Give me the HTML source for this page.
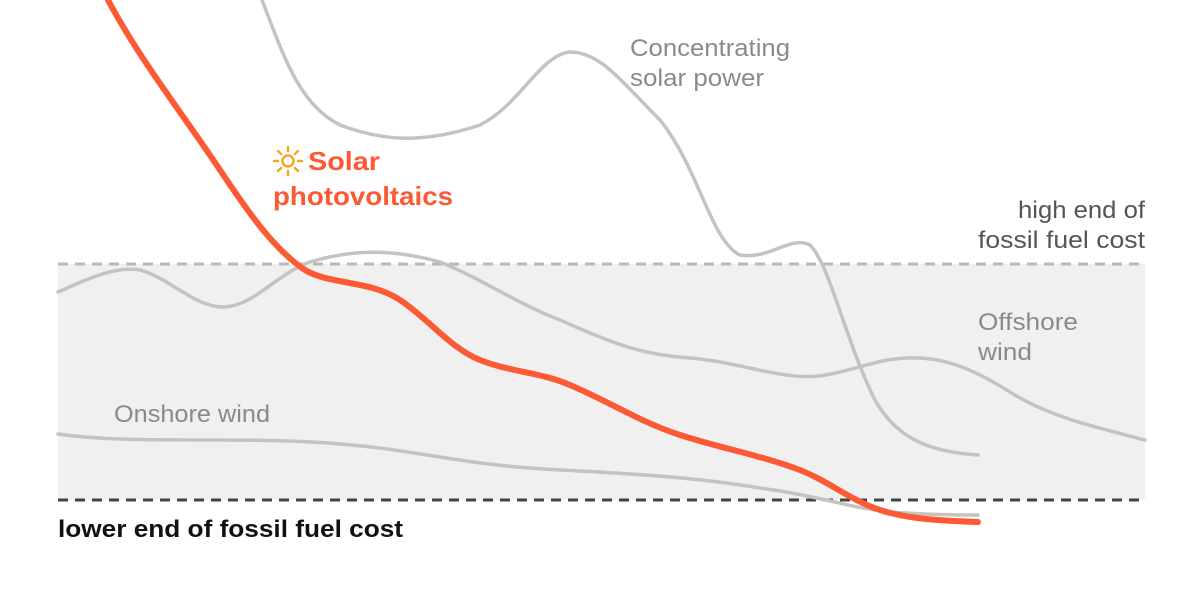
<!DOCTYPE html>
<html><head><style>
body{margin:0;background:#fff;}
svg{display:block;font-family:"Liberation Sans",sans-serif;}
</style></head><body>
<svg width="1200" height="600" viewBox="0 0 1200 600">
<rect x="58" y="264" width="1087" height="236" fill="#f0f0f0"/>
<line x1="58" y1="264" x2="1145" y2="264" stroke="#b8b8b8" stroke-width="3" stroke-dasharray="10,7"/>
<line x1="58" y1="500" x2="1145" y2="500" stroke="#444" stroke-width="3" stroke-dasharray="10,7"/>
<g fill="none" stroke="#c6c3bf" stroke-width="3.5" stroke-linecap="round">
<path d="M262,0 C285,60 300,105 340,125 C380,140 420,145 480,125 C520,105 540,55 570,52 C600,52 620,80 660,120 C700,170 710,240 740,255 C770,260 790,235 810,245 C830,265 845,340 875,400 C900,445 940,452 978,455"/>
<path d="M58,292 C90,278 115,266 140,270 C170,278 195,308 225,307 C255,305 275,275 310,262 C350,250 390,248 440,262 C480,278 520,305 560,320 C610,342 640,355 690,358 C740,362 780,380 820,376 C860,370 880,356 920,358 C960,360 990,380 1020,398 C1060,420 1100,428 1145,440"/>
<path d="M58,434 C100,440 150,440 220,440 C290,440 330,442 380,448 C440,456 480,466 560,470 C640,474 700,478 760,488 C820,496 850,508 890,512 C930,515 960,515 978,515"/>
</g>
<path d="M108,0 C140,60 180,110 220,170 C250,215 275,250 305,270 C330,285 370,280 400,300 C430,320 450,348 480,360 C510,372 540,372 570,385 C610,402 640,422 680,435 C720,448 760,455 800,470 C830,482 850,500 880,510 C910,520 950,521 978,522" fill="none" stroke="#fc5a34" stroke-width="6" stroke-linecap="round"/>
<g font-size="24" fill="#8a8a8a">
<text x="630" y="56" textLength="160" lengthAdjust="spacingAndGlyphs">Concentrating</text>
<text x="630" y="86" textLength="134" lengthAdjust="spacingAndGlyphs">solar power</text>
<text x="1018" y="218" fill="#555" textLength="127" lengthAdjust="spacingAndGlyphs">high end of</text>
<text x="978" y="248" fill="#555" textLength="167" lengthAdjust="spacingAndGlyphs">fossil fuel cost</text>
<text x="978" y="330" textLength="100" lengthAdjust="spacingAndGlyphs">Offshore</text>
<text x="978" y="360" textLength="54" lengthAdjust="spacingAndGlyphs">wind</text>
<text x="114" y="422" textLength="156" lengthAdjust="spacingAndGlyphs">Onshore wind</text>
</g>
<text x="58" y="537" font-size="24" font-weight="bold" fill="#111" textLength="345" lengthAdjust="spacingAndGlyphs">lower end of fossil fuel cost</text>
<g font-size="26" font-weight="bold" fill="#fc5a34">
<text x="308" y="170" textLength="72" lengthAdjust="spacingAndGlyphs">Solar</text>
<text x="273" y="205" textLength="180" lengthAdjust="spacingAndGlyphs">photovoltaics</text>
</g>
<g stroke="#f5a623" stroke-width="2.5" stroke-linecap="round" fill="none">
<circle cx="288" cy="161" r="5.5"/>
<line x1="288" y1="147" x2="288" y2="151"/><line x1="288" y1="171" x2="288" y2="175"/>
<line x1="274" y1="161" x2="278" y2="161"/><line x1="298" y1="161" x2="302" y2="161"/>
<line x1="278" y1="151" x2="281" y2="154"/><line x1="295" y1="168" x2="298" y2="171"/>
<line x1="298" y1="151" x2="295" y2="154"/><line x1="281" y1="168" x2="278" y2="171"/>
</g>
</svg>
</body></html>
